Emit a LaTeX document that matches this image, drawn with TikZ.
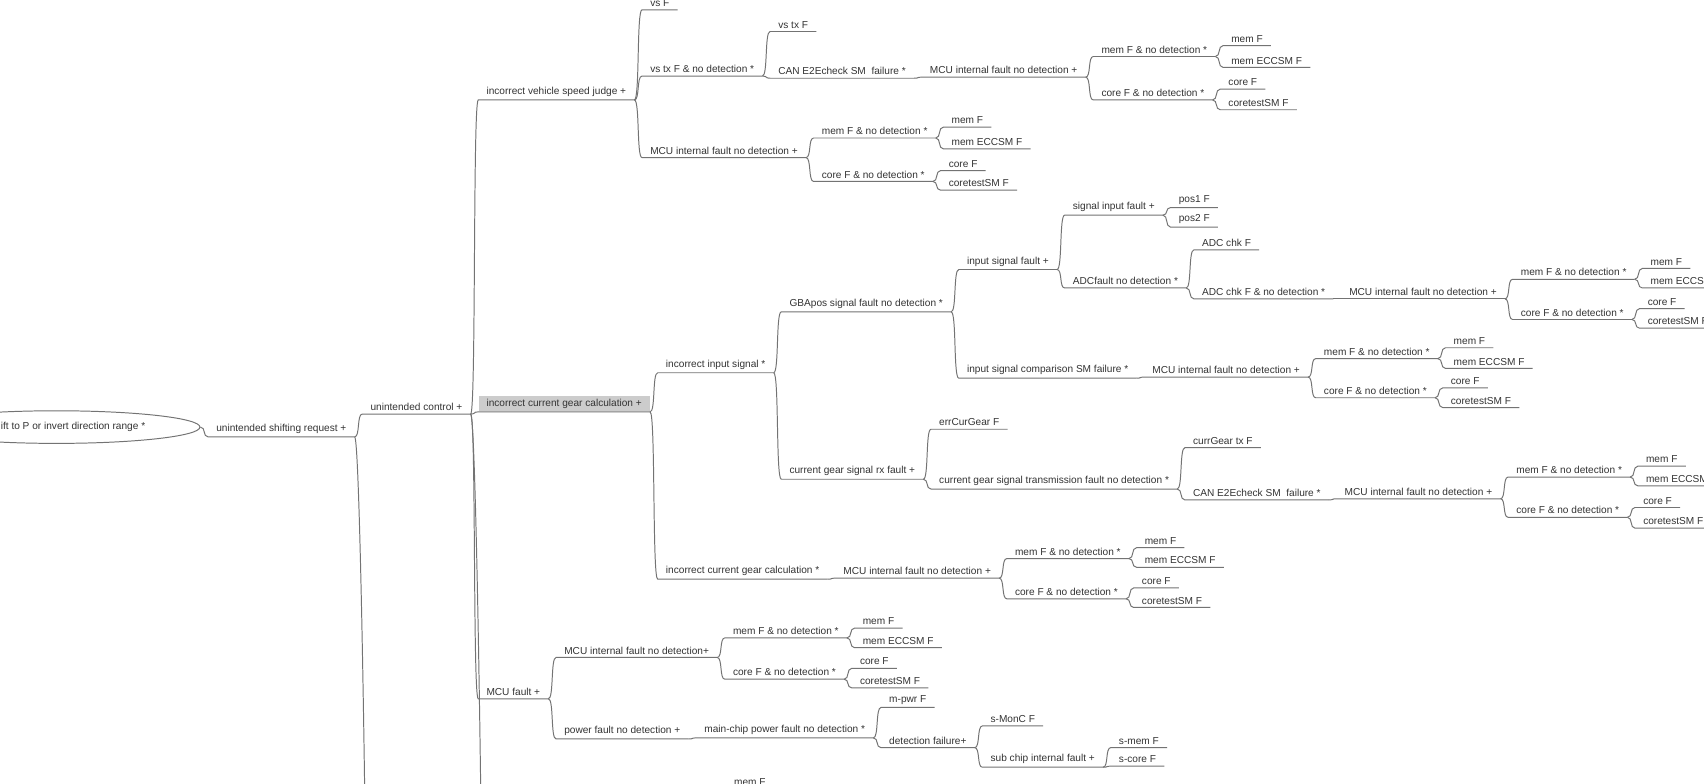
\documentclass[tikz,border=0pt]{standalone}
\usepackage{fontspec}
\setmainfont{Liberation Sans}
\usetikzlibrary{shapes.geometric}
\tikzset{
  lbl/.style={inner xsep=3.6pt,inner ysep=1.3pt,font=\fontsize{4.65}{5}\selectfont,text=black!80},
  conn/.style={draw=black!55,line width=0.45pt},
  hl/.style={fill=black!20}
}
\newcommand\kid[5][]{%
  \path (#3-r) ++(7,0) coordinate (#2-t);
  \coordinate (#2-y) at (0,#4);
  \coordinate (#2-l) at (#2-t |- #2-y);
  \node[lbl,anchor=south west,#1] (#2) at (#2-l) {#5};
  \coordinate (#2-r) at (#2.south east);
  \draw[conn] (#3-r) .. controls +(5,0) and +(-5,0) .. (#2-l) -- (#2-r);}
\newcommand\mcu[9]{%
  \kid{#1}{#2}{#3}{MCU internal fault no detection +}%
  \kid{#1a}{#1}{#4}{mem F \& no detection *}%
  \kid{#1aa}{#1a}{#5}{mem F}%
  \kid{#1ab}{#1a}{#6}{mem ECCSM F}%
  \kid{#1b}{#1}{#7}{core F \& no detection *}%
  \kid{#1ba}{#1b}{#8}{core F}%
  \kid{#1bb}{#1b}{#9}{coretestSM F}}
\begin{document}
\begin{tikzpicture}[x=0.5pt,y=-0.5pt]
\useasboundingbox (0,0) rectangle (1568,721);
\clip (0,0) rectangle (1568,721);
\fill[white] (0,0) rectangle (1568,721);
\node[ellipse,draw=black!55,line width=0.45pt,minimum width=132pt,minimum height=15pt,inner sep=0pt,font=\fontsize{4.65}{5}\selectfont,text=black!80] (root) at (52,393) {\hspace*{-14pt}unintended shift to P or invert direction range *};
\coordinate (root-r) at (root.east);
\kid{usr}{root}{402}{unintended shifting request +}
\kid{uc}{usr}{381}{unintended control +}
\kid{ivs}{uc}{92}{incorrect vehicle speed judge +}
\kid{vsf}{ivs}{9}{vs F}
\kid{vstx}{ivs}{70}{vs tx F \& no detection *}
\kid{vstxf}{vstx}{29}{vs tx F}
\kid{canA}{vstx}{72}{CAN E2Echeck SM\ \ failure *}
\mcu{mA}{canA}{71}{52}{42}{62}{92}{82}{101}
\mcu{mB}{ivs}{145}{127}{117}{137}{167}{157}{175}
\kid[hl]{icg}{uc}{379}{incorrect current gear calculation +}
\kid{iis}{icg}{343}{incorrect input signal *}
\kid{gba}{iis}{287}{GBApos signal fault no detection *}
\kid{isf}{gba}{248}{input signal fault +}
\kid{sif}{isf}{198}{signal input fault +}
\kid{pa}{sif}{191}{pos1 F}
\kid{pb}{sif}{209}{pos2 F}
\kid{adc}{isf}{265}{ADCfault no detection *}
\kid{adcf}{adc}{230}{ADC chk F}
\kid{adcn}{adc}{275}{ADC chk F \& no detection *}
\mcu{mC}{adcn}{275}{257}{247}{265}{294}{284}{302}
\kid{iscmp}{gba}{348}{input signal comparison SM failure *}
\mcu{mD}{iscmp}{347}{330}{320}{339}{366}{357}{375}
\kid{cgrx}{iis}{441}{current gear signal rx fault +}
\kid{ecg}{cgrx}{395}{errCurGear F}
\kid{cgtx}{cgrx}{450}{current gear signal transmission fault no detection *}
\kid{cgtxf}{cgtx}{412}{currGear tx F}
\kid{canB}{cgtx}{460}{CAN E2Echeck SM\ \ failure *}
\mcu{mE}{canB}{459}{439}{429}{447}{476}{467}{486}
\kid{icgc}{icg}{533}{incorrect current gear calculation *}
\mcu{mF}{icgc}{532}{514}{504}{522}{551}{541}{559}
\kid{mcuf}{uc}{643}{MCU fault +}
\kid{mG}{mcuf}{605}{MCU internal fault no detection+}
\kid{mGa}{mG}{587}{mem F \& no detection *}
\kid{mGaa}{mGa}{578}{mem F}
\kid{mGab}{mGa}{596}{mem ECCSM F}
\kid{mGb}{mG}{625}{core F \& no detection *}
\kid{mGba}{mGb}{615}{core F}
\kid{mGbb}{mGb}{633}{coretestSM F}
\kid{pf}{mcuf}{680}{power fault no detection +}
\kid{mc}{pf}{679}{main-chip power fault no detection *}
\kid{mpwr}{mc}{651}{m-pwr F}
\kid{df}{mc}{688}{detection failure+}
\kid{smon}{df}{668}{s-MonC F}
\kid{sci}{df}{706}{sub chip internal fault +}
\kid{smem}{sci}{688}{s-mem F}
\kid{score}{sci}{705}{s-core F}
\coordinate (ucoff) at ([xshift=5]uc-r |- 0,800);
\draw[conn] (uc-r) .. controls +(5,0) and +(0,-40) .. (ucoff);
\coordinate (usroff) at ([xshift=5]usr-r |- 0,800);
\draw[conn] (usr-r) .. controls +(5,0) and +(0,-40) .. (usroff);
\node[lbl,anchor=south west] (memx) at (668,726) {mem F};
\end{tikzpicture}
\end{document}
